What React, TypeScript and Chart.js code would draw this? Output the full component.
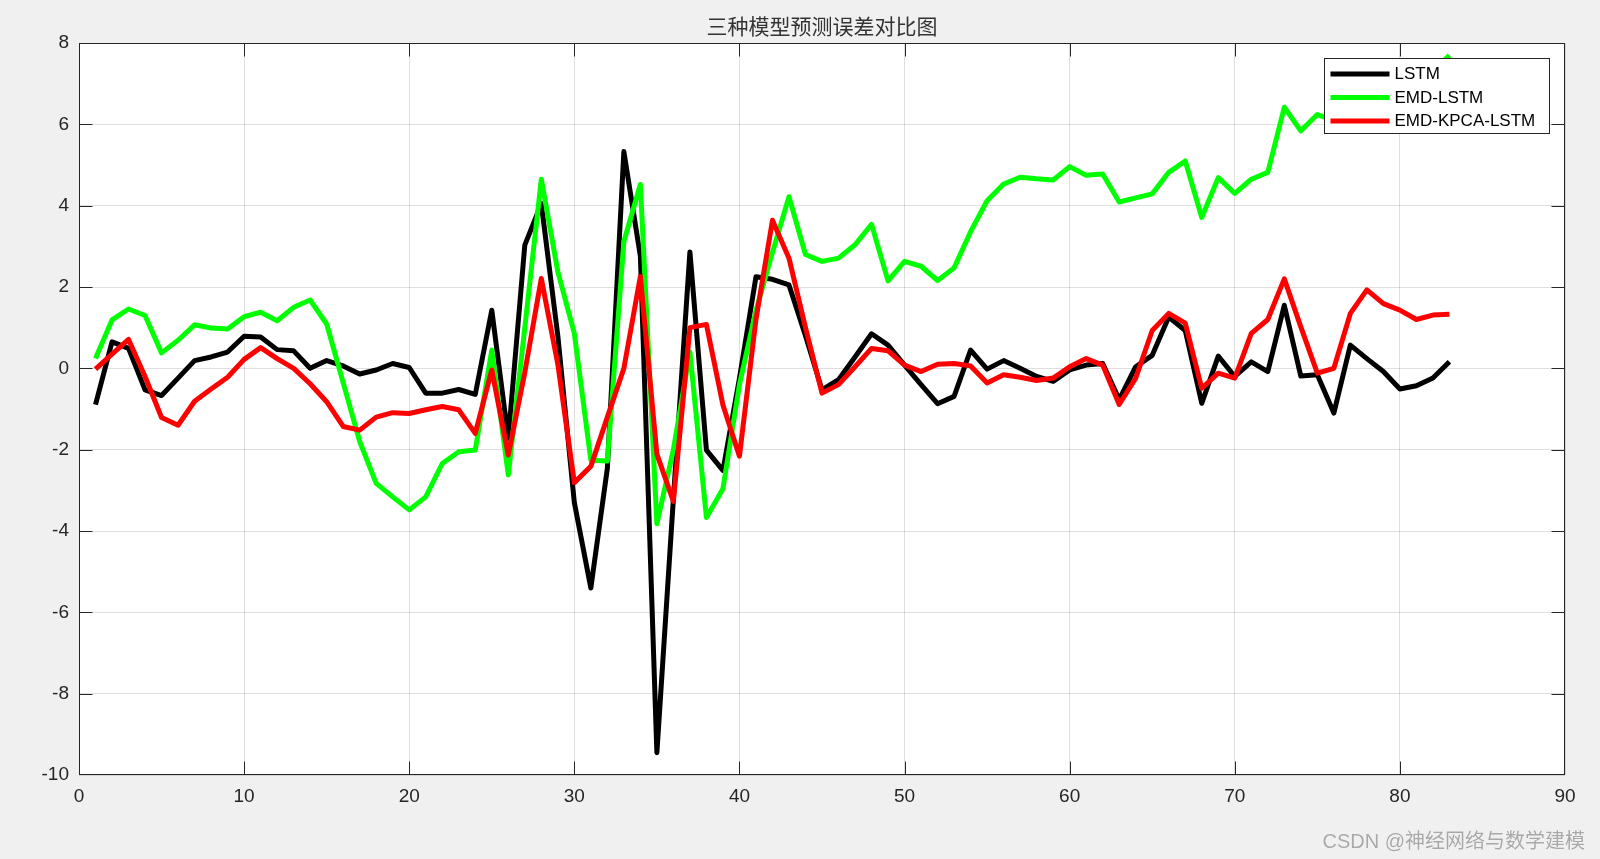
import React, { useEffect, useRef } from 'react';
import { Chart, registerables } from 'chart.js';

Chart.register(...registerables);

const titleText = '三种模型预测误差对比图';
const watermarkText = 'CSDN @神经网络与数学建模';

const xTicks = [0, 10, 20, 30, 40, 50, 60, 70, 80, 90];
const yTicks = [-10, -8, -6, -4, -2, 0, 2, 4, 6, 8];

const seriesLabels = ['LSTM', 'EMD-LSTM', 'EMD-KPCA-LSTM'];
const seriesColors = ['#000000', '#00ff00', '#ff0000'];

const lstm = [
  -0.89, 0.65, 0.49, -0.53, -0.67, -0.24, 0.19, 0.28, 0.40, 0.79,
  0.77, 0.46, 0.43, 0.0, 0.19, 0.06, -0.14, -0.04, 0.12, 0.02,
  -0.61, -0.61, -0.52, -0.64, 1.43, -1.72, 3.03, 4.05, 0.8, -3.3,
  -5.4, -2.46, 5.33, 2.76, -9.45, -3.2, 2.86, -2.01, -2.51, -0.25,
  2.25, 2.19, 2.05, 0.8, -0.53, -0.28, 0.28, 0.85, 0.57, 0.08,
  -0.4, -0.87, -0.69, 0.45, -0.02, 0.19, 0.0, -0.2, -0.32, -0.04,
  0.08, 0.12, -0.77, 0.04, 0.32, 1.26, 0.93, -0.86, 0.3, -0.2,
  0.16, -0.08, 1.55, -0.19, -0.16, -1.1, 0.57, 0.24, -0.08, -0.51,
  -0.43, -0.24, 0.16,
];

const emdLstm = [
  0.24, 1.19, 1.46, 1.30, 0.38, 0.69, 1.07, 0.99, 0.97, 1.27,
  1.38, 1.17, 1.50, 1.68, 1.09, -0.35, -1.8, -2.83, -3.16, -3.48,
  -3.16, -2.34, -2.05, -2.01, 0.45, -2.62, 1.0, 4.65, 2.38, 0.86,
  -2.26, -2.28, 3.12, 4.52, -3.82, -2.0, 0.40, -3.67, -2.96, -0.4,
  1.42, 2.85, 4.22, 2.8, 2.63, 2.71, 3.04, 3.54, 2.15, 2.63,
  2.51, 2.16, 2.47, 3.36, 4.12, 4.53, 4.70, 4.66, 4.63, 4.96,
  4.75, 4.78, 4.09, 4.19, 4.29, 4.82, 5.1, 3.71, 4.69, 4.3,
  4.65, 4.82, 6.42, 5.84, 6.24, 6.1, 6.4, 6.6, 6.8, 7.0,
  7.1, 7.3, 7.7,
];

const emdKpcaLstm = [
  -0.02, 0.35, 0.71, -0.2, -1.21, -1.40, -0.81, -0.51, -0.22, 0.22,
  0.51, 0.24, 0.0, -0.38, -0.82, -1.43, -1.52, -1.20, -1.09, -1.11,
  -1.02, -0.94, -1.02, -1.60, -0.04, -2.13, -0.1, 2.21, 0.1, -2.81,
  -2.41, -1.2, 0.0, 2.26, -2.11, -3.27, 1.0, 1.08, -0.9, -2.16,
  1.2, 3.64, 2.71, 1.0, -0.61, -0.4, 0.04, 0.49, 0.43, 0.08,
  -0.08, 0.1, 0.12, 0.06, -0.36, -0.16, -0.22, -0.3, -0.24, 0.04,
  0.24, 0.08, -0.89, -0.24, 0.93, 1.35, 1.11, -0.49, -0.12, -0.24,
  0.86, 1.2, 2.2, 1.02, -0.12, 0.0, 1.35, 1.93, 1.59, 1.43,
  1.2, 1.31, 1.33,
];

const seriesValues = [lstm, emdLstm, emdKpcaLstm];

const AXIS_COLOR = '#262626';
const FONT = "'Liberation Sans', Arial, Helvetica, sans-serif";

const matlabFrame = {
  id: 'matlabFrame',
  beforeDraw(chart: any) {
    const { ctx, chartArea: a } = chart;
    ctx.save();
    ctx.fillStyle = '#ffffff';
    ctx.fillRect(a.left, a.top, a.right - a.left, a.bottom - a.top);
    ctx.restore();
  },
  afterDatasetsDraw(chart: any) {
    const { ctx, chartArea: a, scales } = chart;
    const L = Math.round(a.left) + 0.5;
    const R = Math.round(a.right) - 0.5;
    const T = Math.round(a.top) + 0.5;
    const B = Math.round(a.bottom) - 0.5;
    const tl = 13;
    ctx.save();
    ctx.strokeStyle = AXIS_COLOR;
    ctx.lineWidth = 1;
    ctx.beginPath();
    xTicks.forEach((v) => {
      if (v === xTicks[0] || v === xTicks[xTicks.length - 1]) return;
      const px = Math.round(scales.x.getPixelForValue(v)) + 0.5;
      ctx.moveTo(px, B);
      ctx.lineTo(px, B - tl);
      ctx.moveTo(px, T);
      ctx.lineTo(px, T + tl);
    });
    yTicks.forEach((v) => {
      if (v === yTicks[0] || v === yTicks[yTicks.length - 1]) return;
      const py = Math.round(scales.y.getPixelForValue(v)) + 0.5;
      ctx.moveTo(L, py);
      ctx.lineTo(L + tl, py);
      ctx.moveTo(R, py);
      ctx.lineTo(R - tl, py);
    });
    ctx.stroke();
    ctx.strokeRect(L, T, R - L, B - T);

    // legend (MATLAB style, inside upper right)
    const boxW = 225;
    const boxH = 75;
    const bx = Math.round(a.right - 16 - boxW) + 0.5;
    const by = Math.round(a.top + 15) + 0.5;
    ctx.fillStyle = '#ffffff';
    ctx.fillRect(bx, by, boxW, boxH);
    ctx.strokeStyle = AXIS_COLOR;
    ctx.lineWidth = 1;
    ctx.strokeRect(bx, by, boxW, boxH);
    ctx.font = `17px ${FONT}`;
    ctx.textBaseline = 'middle';
    ctx.textAlign = 'left';
    seriesLabels.forEach((label, i) => {
      const ry = by + 15.5 + i * 23.5;
      ctx.strokeStyle = seriesColors[i];
      ctx.lineWidth = 5;
      ctx.beginPath();
      ctx.moveTo(bx + 6, ry);
      ctx.lineTo(bx + 65, ry);
      ctx.stroke();
      ctx.fillStyle = '#000000';
      ctx.fillText(label, bx + 70, ry + 0.5);
    });
    ctx.restore();
  },
};

export default function App() {
  const canvasRef = useRef<HTMLCanvasElement | null>(null);

  useEffect(() => {
    const canvas = canvasRef.current;
    if (!canvas) return;
    const datasets = seriesLabels.map((label, i) => ({
      label,
      data: seriesValues[i].map((v, k) => ({ x: k + 1, y: v })),
      borderColor: seriesColors[i],
      backgroundColor: seriesColors[i],
      borderWidth: 5,
      pointRadius: 0,
      pointHoverRadius: 0,
      tension: 0,
      fill: false,
      borderJoinStyle: 'round' as const,
      order: 3 - i,
    }));

    const chart = new Chart(canvas, {
      type: 'line',
      data: { datasets },
      plugins: [matlabFrame],
      options: {
        responsive: false,
        maintainAspectRatio: false,
        animation: false,
        devicePixelRatio: 1,
        layout: { padding: { top: 43, right: 35, bottom: 0, left: 0 } },
        plugins: {
          legend: { display: false },
          tooltip: { enabled: false },
          title: { display: false },
        },
        scales: {
          x: {
            type: 'linear',
            min: 0,
            max: 90,
            afterBuildTicks: (scale: any) => {
              scale.ticks = xTicks.map((value) => ({ value }));
            },
            afterFit: (scale: any) => {
              scale.height = 84;
            },
            ticks: {
              color: AXIS_COLOR,
              font: { family: FONT, size: 19 },
              padding: 10,
              maxRotation: 0,
              autoSkip: false,
            },
            grid: { color: 'rgba(38,38,38,0.15)', lineWidth: 1, drawTicks: false },
            border: { display: false },
          },
          y: {
            type: 'linear',
            min: -10,
            max: 8,
            afterBuildTicks: (scale: any) => {
              scale.ticks = yTicks.map((value) => ({ value }));
            },
            afterFit: (scale: any) => {
              scale.width = 79;
            },
            ticks: {
              color: AXIS_COLOR,
              font: { family: FONT, size: 19 },
              padding: 10,
              autoSkip: false,
            },
            grid: { color: 'rgba(38,38,38,0.15)', lineWidth: 1, drawTicks: false },
            border: { display: false },
          },
        },
      },
    });
    return () => chart.destroy();
  }, []);

  return (
    <div
      style={{
        position: 'absolute',
        left: 0,
        top: 0,
        width: 1600,
        height: 859,
        background: '#f0f0f0',
        overflow: 'hidden',
      }}
    >
      <canvas ref={canvasRef} width={1600} height={859} style={{ display: 'block', width: 1600, height: 859 }} />
      <div
        style={{
          position: 'absolute',
          left: 0,
          top: 12,
          width: 1644,
          textAlign: 'center',
          fontFamily: "'Noto Sans CJK SC', sans-serif",
          fontSize: 21,
          lineHeight: '26px',
          color: '#333333',
          whiteSpace: 'nowrap',
        }}
      >
        {titleText}
      </div>
      <div
        style={{
          position: 'absolute',
          right: 15,
          top: 828,
          fontFamily: "'Liberation Sans', 'Noto Sans CJK SC', sans-serif",
          fontSize: 20,
          lineHeight: '26px',
          color: '#a8a8a8',
          textShadow: '0 0 1px #ffffff',
          whiteSpace: 'nowrap',
        }}
      >
        {watermarkText}
      </div>
    </div>
  );
}
